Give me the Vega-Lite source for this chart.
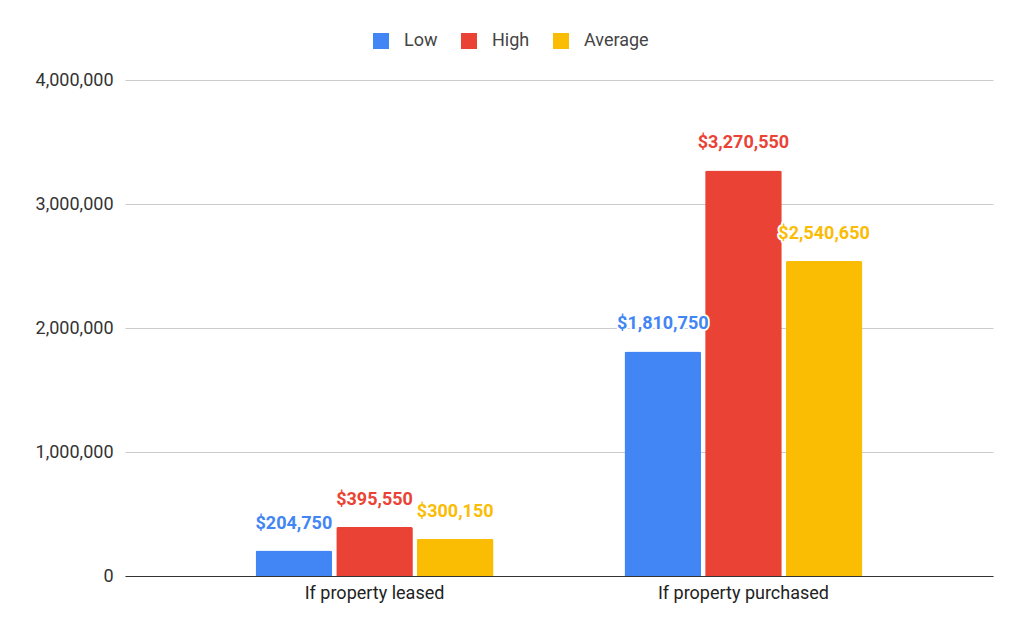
{
  "$schema": "https://vega.github.io/schema/vega-lite/v6.json",
  "width": 868,
  "height": 496,
  "padding": {"left": 35, "top": 32, "right": 31, "bottom": 10},
  "background": "white",
  "view": {"stroke": null},
  "data": {
    "values": [
      {"scenario": "If property leased", "series": "Low", "cost": 204750},
      {"scenario": "If property leased", "series": "High", "cost": 395550},
      {"scenario": "If property leased", "series": "Average", "cost": 300150},
      {"scenario": "If property purchased", "series": "Low", "cost": 1810750},
      {"scenario": "If property purchased", "series": "High", "cost": 3270550},
      {"scenario": "If property purchased", "series": "Average", "cost": 2540650}
    ]
  },
  "encoding": {
    "x": {
      "field": "scenario",
      "type": "nominal",
      "title": null,
      "sort": null,
      "scale": {"paddingInner": 0.355, "paddingOuter": 0.354},
      "axis": {
        "labelAngle": 0,
        "labelFont": "Roboto",
        "labelFontSize": 18,
        "labelColor": "#222222",
        "labelPadding": 8,
        "ticks": false,
        "domainColor": "#333333",
        "domainWidth": 1.2
      }
    },
    "xOffset": {
      "field": "series",
      "type": "nominal",
      "sort": ["Low", "High", "Average"],
      "scale": {"paddingInner": 0.05}
    },
    "y": {
      "field": "cost",
      "type": "quantitative",
      "title": null,
      "scale": {"domain": [0, 4000000]},
      "axis": {
        "values": [0, 1000000, 2000000, 3000000, 4000000],
        "format": ",d",
        "labelOverlap": false,
        "labelFont": "Roboto",
        "labelFontSize": 18,
        "labelColor": "#333333",
        "labelPadding": 12,
        "ticks": false,
        "domain": false,
        "gridColor": "#cccccc"
      }
    },
    "color": {
      "field": "series",
      "type": "nominal",
      "sort": ["Low", "High", "Average"],
      "scale": {
        "domain": ["Low", "High", "Average"],
        "range": ["#4285F4", "#EA4335", "#FBBC04"]
      },
      "legend": {
        "title": null,
        "orient": "none",
        "legendX": 247,
        "legendY": -48,
        "direction": "horizontal",
        "symbolType": "square",
        "symbolSize": 256,
        "symbolStrokeWidth": 0,
        "labelFont": "Roboto",
        "labelFontSize": 18,
        "labelColor": "#444444",
        "columnPadding": 22,
        "labelOffset": 14
      }
    }
  },
  "layer": [
    {"mark": {"type": "bar", "cornerRadiusTopLeft": 2, "cornerRadiusTopRight": 2}},
    {
      "mark": {
        "type": "text",
        "dy": -27,
        "font": "Roboto",
        "fontSize": 18,
        "fontWeight": "bold",
        "stroke": "white",
        "strokeWidth": 4,
        "strokeJoin": "round"
      },
      "encoding": {
        "text": {"field": "cost", "type": "quantitative", "format": "$,.0f"}
      }
    },
    {
      "mark": {
        "type": "text",
        "dy": -27,
        "font": "Roboto",
        "fontSize": 18,
        "fontWeight": "bold"
      },
      "encoding": {
        "text": {"field": "cost", "type": "quantitative", "format": "$,.0f"}
      }
    }
  ]
}
